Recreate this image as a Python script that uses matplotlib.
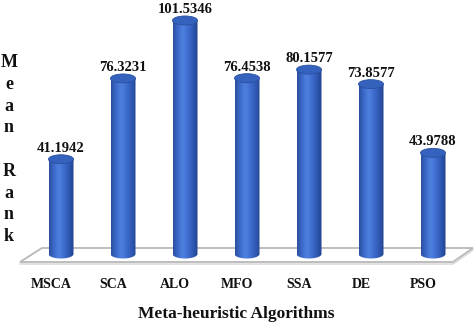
import matplotlib.pyplot as plt
import matplotlib.patches as patches
from matplotlib.colors import LinearSegmentedColormap
import numpy as np

algorithms = ['MSCA', 'SCA', 'ALO', 'MFO', 'SSA', 'DE', 'PSO']
mean_rank = [41.1942, 76.3231, 101.5346, 76.4538, 80.1577, 73.8577, 43.9788]
value_labels = ['41.1942', '76.3231', '101.5346', '76.4538', '80.1577', '73.8577', '43.9788']
ylabel_text = 'Mean Rank'
xlabel_text = 'Meta-heuristic Algorithms'

W, H = 474, 324
px_x, x0 = 62.0, 61.0     # pixels per category, pixel of first category
px_y, y0 = 2.3, 254.0     # pixels per unit, pixel row of zero

fig = plt.figure(figsize=(W / 100, H / 100), dpi=100)
ax = fig.add_axes([0, 0, 1, 1])
ax.set_xlim(-x0 / px_x, (W - x0) / px_x)
ax.set_ylim(-(H - y0) / px_y, y0 / px_y)
ax.axis('off')

serif = ['Liberation Serif', 'DejaVu Serif']

# floor (3D-looking base plate)
def px(x, y):
    return ((x - x0) / px_x, (y0 - y) / px_y)

floor = [px(42, 248), px(473, 248), px(453, 262), px(20, 262)]
ax.add_patch(patches.Polygon(floor, closed=True, facecolor='white',
                             edgecolor='#b8b8b8', lw=1.3, zorder=1))
ax.plot(*zip(px(20, 264), px(453, 264), px(473, 250)), color='#d6d6d6', lw=1, zorder=1)

cmap = LinearSegmentedColormap.from_list(
    'cyl', ['#2a4f9e', '#3d6bcc', '#4f80e0', '#3f6dcf', '#2f59b4', '#22448f'])
grad = np.linspace(0, 1, 64).reshape(1, -1)

bw = 25 / px_x      # cylinder width
eh = 9 / px_y       # ellipse height

for i, v in enumerate(mean_rank):
    left = i - bw / 2
    # body outline: rectangle plus bottom half ellipse
    theta = np.linspace(np.pi, 2 * np.pi, 40)
    bx = i + bw / 2 * np.cos(theta)
    by = eh / 2 * np.sin(theta)
    verts = [(left, v)] + list(zip(bx, by)) + [(i + bw / 2, v)]
    body = patches.Polygon(verts, closed=True, facecolor='none', edgecolor='none')
    ax.add_patch(body)
    im = ax.imshow(grad, cmap=cmap, aspect='auto', extent=(left, left + bw, -eh, v),
                   zorder=2, interpolation='bilinear')
    im.set_clip_path(body)
    top = patches.Ellipse((i, v), bw, eh, facecolor='#3562bd', edgecolor='#2a519f',
                          lw=0.6, zorder=3)
    ax.add_patch(top)
    ax.annotate(value_labels[i], (i, v), xytext=(0, 7.5), textcoords='offset pixels',
                ha='center', va='baseline', fontsize=10.5, fontweight='bold',
                family=serif, color='#111111')

# category labels sit on the front edge of the floor, shifted left by perspective
for i, name in enumerate(algorithms):
    ax.text(i - 10 / px_x, (y0 - 285) / px_y, name, ha='center', va='center',
            fontsize=10, fontweight='bold', family=serif, color='#111111')

ax.text((236 - x0) / px_x, (y0 - 314) / px_y, xlabel_text, ha='center', va='center',
        fontsize=12.5, fontweight='bold', family=serif, color='#111111')

for k, ch in enumerate(ylabel_text):
    fig.text(9 / W, 1 - (67 + 21.75 * k) / H, ch, ha='center', va='baseline',
             fontsize=13, fontweight='bold', family=serif, color='#111111')

fig.savefig('out.png', dpi=100)
